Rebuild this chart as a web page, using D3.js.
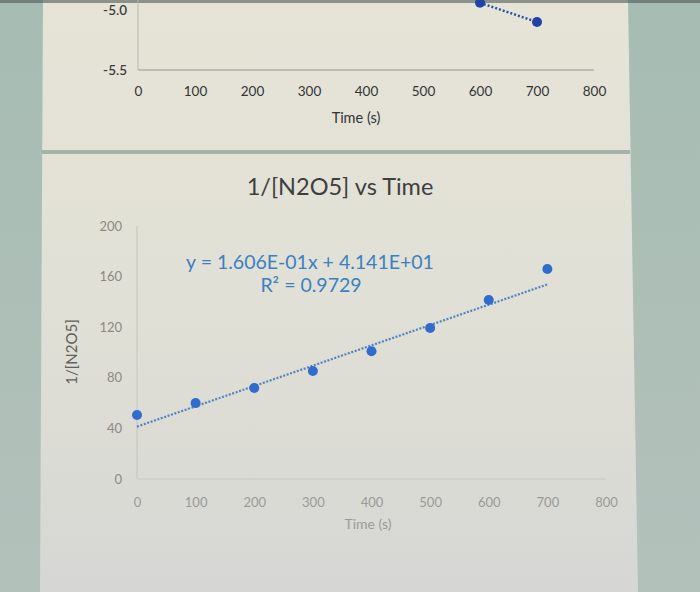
<!DOCTYPE html>
<html><head><meta charset="utf-8">
<script src="https://cdn.jsdelivr.net/npm/d3@7"></script>
<style>body{margin:0;background:#a8bcb5;}svg{display:block;}</style>
</head><body><svg id="c" width="700" height="592"></svg>
<script>
// ---- data ----
const timeTicks = [0, 100, 200, 300, 400, 500, 600, 700, 800];
// upper (partially visible) chart: ln[N2O5] vs time
const upperTime = [600, 700];
const upperLn = [-4.94, -5.10];
const upperYTicks = [-5.5, -5.0];
// lower chart: 1/[N2O5] vs time
const time = [0, 100, 200, 300, 400, 500, 600, 700];
const invConc = [50.6, 60, 72, 85.4, 101, 119.4, 141.5, 166];
const yTicks = [0, 40, 80, 120, 160, 200];
const trendSlope = 0.1606, trendIntercept = 41.41;
const trendRange = [0, 700];
const equationText = "y = 1.606E-01x + 4.141E+01";
const r2Text = "R\u00B2 = 0.9729";
const titleText = "1/[N2O5] vs Time";

const svg = d3.select("#c");
const FONT = "Lato, 'Open Sans', sans-serif";

// ---- background (photo of a screen) ----
const defs = svg.append("defs");
const g1 = defs.append("linearGradient").attr("id","panel").attr("x1",0).attr("y1",0).attr("x2",0).attr("y2",1);
g1.append("stop").attr("offset","0%").attr("stop-color","#e6e4d7");
g1.append("stop").attr("offset","50%").attr("stop-color","#e1e0d6");
g1.append("stop").attr("offset","100%").attr("stop-color","#d6d7d4");
const g2 = defs.append("linearGradient").attr("id","side").attr("x1",0).attr("y1",0).attr("x2",0).attr("y2",1);
g2.append("stop").attr("offset","0%").attr("stop-color","#a6bcb3");
g2.append("stop").attr("offset","100%").attr("stop-color","#b3c1bb");
svg.append("rect").attr("width",700).attr("height",592).attr("fill","url(#side)");
svg.append("path").attr("d", d3.line()([[43,0],[628,0],[638,592],[40,592]])).attr("fill","url(#panel)");
svg.append("rect").attr("x",42).attr("y",150).attr("width",588).attr("height",4).attr("fill","#a9b2aa");
svg.append("rect").attr("x",0).attr("y",0).attr("width",700).attr("height",3).attr("fill","#4f5853").attr("opacity",0.6);

// ---- upper chart ----
const ux = d3.scaleLinear().domain([0, 800]).range([138, 594]);
const uy = d3.scaleLinear().domain([-5.5, -5.0]).range([70, 10]);
const up = svg.append("g");
up.append("line").attr("x1",ux(0)).attr("x2",ux(0)).attr("y1",0).attr("y2",uy(-5.5)).attr("stroke","#b8b8ae");
up.append("line").attr("x1",ux(0)).attr("x2",ux(800)).attr("y1",uy(-5.5)).attr("y2",uy(-5.5)).attr("stroke","#b0b0a6").attr("stroke-width",1.5);
const uya = up.append("g").attr("transform",`translate(${ux(0)},0)`)
  .call(d3.axisLeft(uy).tickValues(upperYTicks).tickFormat(d3.format(".1f")).tickSize(0).tickPadding(11));
uya.select(".domain").remove();
uya.selectAll("text").attr("font-family",FONT).attr("font-size",13.5).attr("font-weight",600).attr("fill","#3c3c3c").text(d=>"-"+Math.abs(d).toFixed(1));
const uxa = up.append("g").attr("transform",`translate(0,${uy(-5.5)})`)
  .call(d3.axisBottom(ux).tickValues(timeTicks).tickFormat(d3.format("d")).tickSize(0).tickPadding(16));
uxa.select(".domain").remove();
uxa.selectAll("text").attr("font-family",FONT).attr("font-size",13.5).attr("fill","#333");
up.append("text").attr("x",356).attr("y",123).attr("text-anchor","middle").attr("font-family",FONT).attr("font-size",14.5).attr("fill","#333").text("Time (s)");
up.append("line").attr("x1",ux(upperTime[0])).attr("y1",uy(upperLn[0])).attr("x2",ux(upperTime[1])).attr("y2",uy(upperLn[1]))
  .attr("stroke","#2c4fa8").attr("stroke-width",2.5).attr("stroke-dasharray","2,2");
up.selectAll("circle").data(upperTime).enter().append("circle")
  .attr("cx",(d)=>ux(d)).attr("cy",(d,i)=>uy(upperLn[i])).attr("r",5).attr("fill","#1f44a6");

// ---- lower chart ----
const x = d3.scaleLinear().domain([0, 800]).range([137, 606]);
const y = d3.scaleLinear().domain([0, 200]).range([479, 226]);
const lo = svg.append("g");
lo.append("line").attr("x1",x(0)).attr("x2",x(0)).attr("y1",y(200)).attr("y2",y(0)).attr("stroke","#c4c4bc");
lo.append("line").attr("x1",x(0)).attr("x2",x(800)).attr("y1",y(0)).attr("y2",y(0)).attr("stroke","#c8c8c0");
const ya = lo.append("g").attr("transform",`translate(${x(0)},0)`)
  .call(d3.axisLeft(y).tickValues(yTicks).tickFormat(d3.format("d")).tickSize(0).tickPadding(15));
ya.select(".domain").remove();
ya.selectAll("text").attr("font-family",FONT).attr("font-size",13).attr("fill","#8a8a84");
const xa = lo.append("g").attr("transform",`translate(0,${y(0)})`)
  .call(d3.axisBottom(x).tickValues(timeTicks).tickFormat(d3.format("d")).tickSize(0).tickPadding(19));
xa.select(".domain").remove();
xa.selectAll("text").attr("font-family",FONT).attr("font-size",13).attr("fill","#9a9a96");
lo.append("text").attr("transform","translate(77,352) rotate(-90)").attr("text-anchor","middle")
  .attr("font-family",FONT).attr("font-size",15).attr("fill","#606060").text("1/[N2O5]");
lo.append("text").attr("x",368).attr("y",529).attr("text-anchor","middle").attr("font-family",FONT).attr("font-size",14).attr("fill","#9a9a96").text("Time (s)");
lo.append("text").attr("x",340).attr("y",195).attr("text-anchor","middle").attr("font-family",FONT).attr("font-size",23.5).attr("fill","#3e3e3e").text(titleText);

// trendline from displayed equation
lo.append("line").attr("x1",x(trendRange[0])).attr("y1",y(trendIntercept+trendSlope*trendRange[0]))
  .attr("x2",x(trendRange[1])).attr("y2",y(trendIntercept+trendSlope*trendRange[1]))
  .attr("stroke","#4f82c2").attr("stroke-width",2.2).attr("stroke-dasharray","2,1.6");
lo.selectAll("circle").data(time).enter().append("circle")
  .attr("cx",d=>x(d)).attr("cy",(d,i)=>y(invConc[i])).attr("r",5).attr("fill","#2f6ccd");

lo.append("text").attr("x",310).attr("y",269).attr("text-anchor","middle").attr("font-family",FONT).attr("font-size",19.5).attr("fill","#3a80c2").text(equationText);
lo.append("text").attr("x",311).attr("y",292).attr("text-anchor","middle").attr("font-family",FONT).attr("font-size",19.5).attr("fill","#3a80c2").text(r2Text);
</script></body></html>
